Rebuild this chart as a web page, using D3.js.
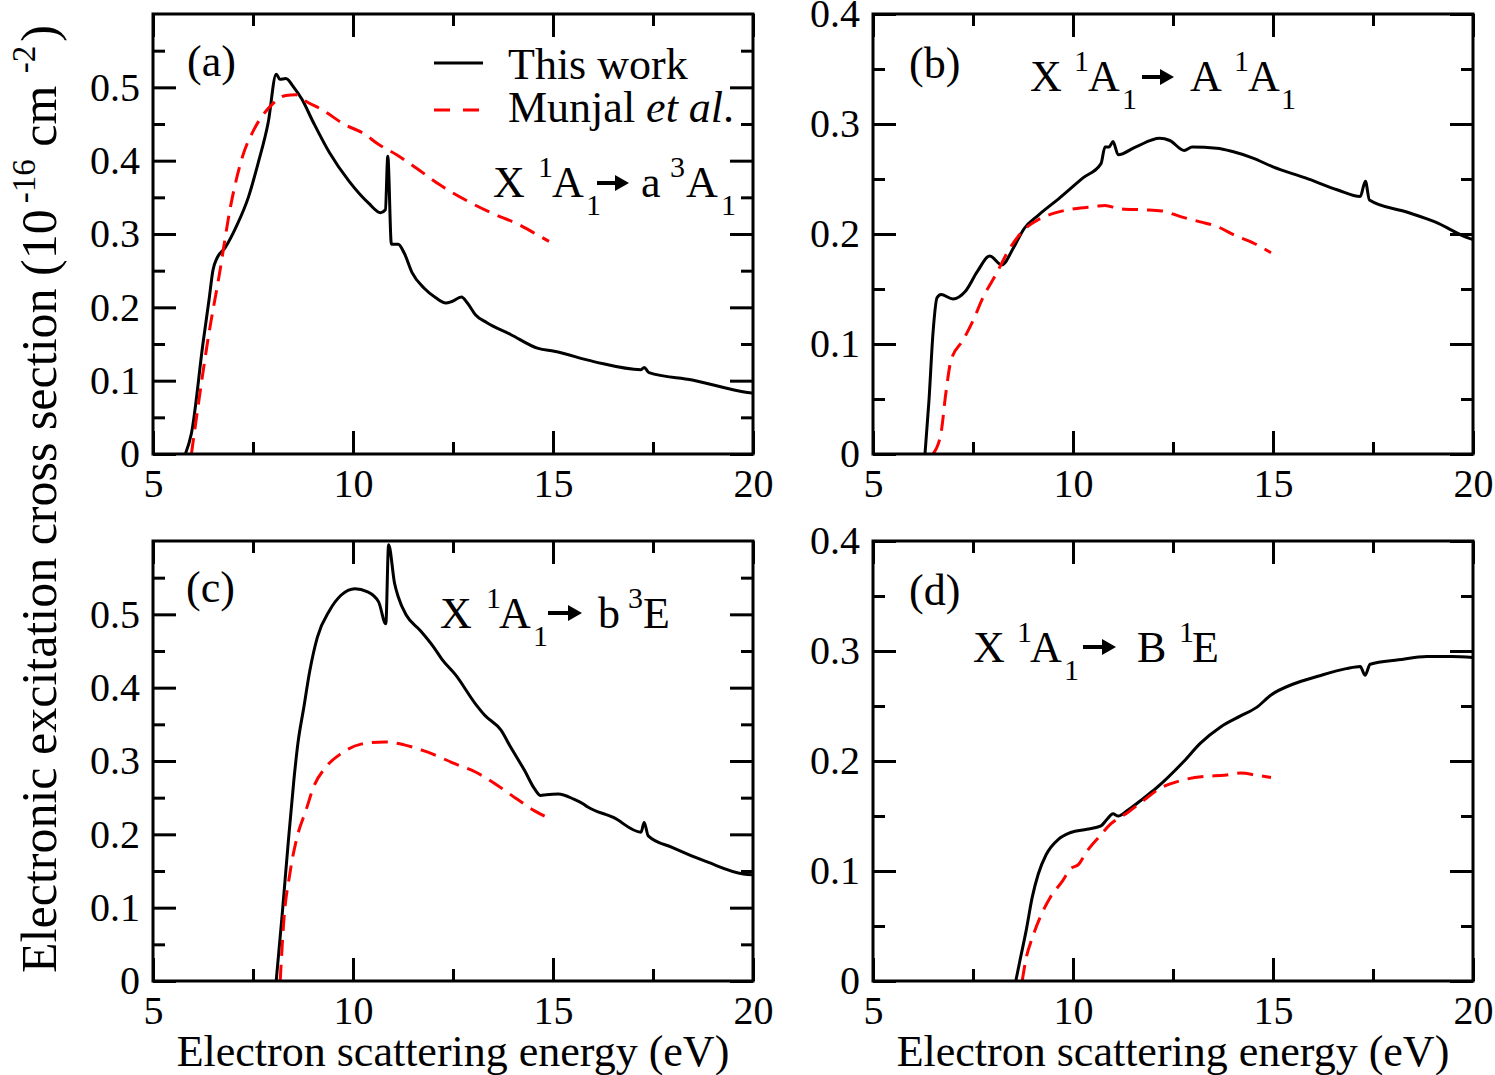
<!DOCTYPE html>
<html>
<head>
<meta charset="utf-8">
<script src="https://cdnjs.cloudflare.com/ajax/libs/d3/7.8.5/d3.min.js"></script>
<style>
body { margin: 0; background: #fff; }
svg { display: block; }
text { font-family: "Liberation Serif", "Times New Roman", Times, serif; fill: #000; }
</style>
</head>
<body>
<div class="visualization"></div>
<script>
// ---- data (energy in eV, cross section in 1e-16 cm^2) ----
const energyAThis = [5.81, 5.96, 6.25, 6.4, 6.5, 6.6, 6.8, 7.09, 7.39, 7.63, 7.88, 8.08, 8.17, 8.32, 8.52, 8.72, 9.01, 9.41, 9.9, 10.39, 10.69, 10.81, 10.87, 10.96, 11.13, 11.28, 11.48, 11.78, 12.07, 12.32, 12.47, 12.71, 12.86, 13.06, 13.35, 13.94, 14.63, 15.03, 16.02, 17.2, 17.28, 17.4, 18.48, 19.86, 20];
const sigmaAThis  = [0, 0.028, 0.151, 0.21, 0.251, 0.267, 0.281, 0.311, 0.351, 0.397, 0.452, 0.518, 0.511, 0.512, 0.5, 0.484, 0.452, 0.411, 0.372, 0.342, 0.329, 0.333, 0.406, 0.286, 0.286, 0.274, 0.247, 0.226, 0.213, 0.206, 0.208, 0.214, 0.206, 0.19, 0.179, 0.163, 0.144, 0.14, 0.126, 0.115, 0.118, 0.111, 0.101, 0.084, 0.083];
const energyARef  = [5.96, 6.15, 6.4, 6.65, 6.94, 7.24, 7.53, 7.93, 8.32, 8.57, 8.82, 9.21, 9.8, 10.3, 10.59, 11.09, 11.58, 12.17, 12.86, 13.45, 14.14, 14.54, 14.9];
const sigmaARef   = [0, 0.074, 0.165, 0.242, 0.338, 0.406, 0.443, 0.474, 0.489, 0.49, 0.481, 0.47, 0.449, 0.436, 0.424, 0.408, 0.39, 0.367, 0.345, 0.329, 0.313, 0.301, 0.29];

const energyBThis = [6.3, 6.4, 6.5, 6.6, 6.7, 7.0, 7.31, 7.61, 7.92, 8.22, 8.52, 8.78, 9.13, 9.64, 10.25, 10.7, 10.8, 10.9, 11.0, 11.13, 11.56, 12.17, 12.42, 12.78, 12.98, 13.59, 13.99, 14.5, 15.0, 15.81, 16.62, 17.18, 17.31, 17.41, 18.34, 19.05, 19.91, 20];
const sigmaBThis  = [0, 0.049, 0.11, 0.142, 0.145, 0.141, 0.148, 0.166, 0.18, 0.172, 0.188, 0.205, 0.217, 0.232, 0.251, 0.264, 0.279, 0.279, 0.284, 0.272, 0.279, 0.287, 0.285, 0.276, 0.279, 0.278, 0.275, 0.269, 0.261, 0.251, 0.24, 0.234, 0.248, 0.231, 0.22, 0.211, 0.196, 0.195];
const energyBRef  = [6.5, 6.7, 6.82, 6.95, 7.26, 7.51, 7.76, 8.07, 8.42, 8.78, 9.13, 9.53, 10.04, 10.55, 10.8, 11.16, 11.76, 12.22, 12.67, 13.18, 13.59, 14.09, 14.5, 14.95];
const sigmaBRef   = [0, 0.019, 0.055, 0.085, 0.104, 0.122, 0.143, 0.163, 0.187, 0.204, 0.213, 0.219, 0.223, 0.225, 0.226, 0.223, 0.222, 0.221, 0.216, 0.211, 0.207, 0.198, 0.192, 0.183];

const energyCThis = [8.08, 8.23, 8.37, 8.52, 8.62, 8.77, 8.92, 9.11, 9.41, 9.7, 10.05, 10.35, 10.64, 10.82, 10.89, 11.04, 11.13, 11.33, 11.68, 12.02, 12.22, 12.57, 13.06, 13.3, 13.7, 13.94, 14.29, 14.54, 14.69, 14.83, 15.13, 15.52, 15.77, 15.85, 16.51, 17.2, 17.28, 17.38, 17.99, 18.87, 19.76, 20];
const sigmaCThis  = [0, 0.091, 0.182, 0.273, 0.323, 0.373, 0.423, 0.469, 0.505, 0.526, 0.535, 0.531, 0.517, 0.487, 0.595, 0.542, 0.524, 0.499, 0.478, 0.455, 0.439, 0.417, 0.378, 0.362, 0.342, 0.319, 0.287, 0.262, 0.253, 0.254, 0.255, 0.248, 0.241, 0.238, 0.223, 0.203, 0.216, 0.198, 0.182, 0.162, 0.146, 0.145];
const energyCRef  = [8.18, 8.27, 8.42, 8.62, 8.82, 9.01, 9.31, 9.7, 10.2, 10.79, 11.28, 11.87, 12.56, 13.06, 13.55, 14.05, 14.54, 14.98];
const sigmaCRef   = [0, 0.082, 0.146, 0.2, 0.232, 0.264, 0.291, 0.31, 0.323, 0.326, 0.322, 0.312, 0.296, 0.285, 0.269, 0.25, 0.232, 0.22];

const energyDThis = [8.57, 8.67, 8.83, 8.98, 9.13, 9.33, 9.64, 9.94, 10.35, 10.7, 10.85, 11.0, 11.13, 11.36, 11.76, 12.07, 12.78, 13.18, 13.69, 14.19, 14.6, 14.95, 15.51, 16.12, 16.83, 17.18, 17.3, 17.43, 18.14, 18.85, 19.46, 20];
const sigmaDThis  = [0, 0.018, 0.046, 0.076, 0.097, 0.115, 0.129, 0.135, 0.138, 0.141, 0.147, 0.152, 0.15, 0.155, 0.166, 0.175, 0.2, 0.216, 0.231, 0.241, 0.249, 0.26, 0.27, 0.277, 0.284, 0.286, 0.278, 0.288, 0.292, 0.295, 0.295, 0.294];
const energyDRef  = [8.73, 8.83, 8.98, 9.18, 9.43, 9.74, 9.94, 10.14, 10.35, 10.65, 10.95, 11.36, 11.76, 12.17, 12.67, 13.28, 13.79, 14.19, 14.6, 14.95];
const sigmaDRef   = [0, 0.021, 0.039, 0.058, 0.076, 0.091, 0.102, 0.106, 0.118, 0.131, 0.143, 0.153, 0.164, 0.175, 0.182, 0.186, 0.187, 0.189, 0.187, 0.185];

const xTicks = [5, 10, 15, 20];
const xMinorTicks = [7.5, 12.5, 17.5];
const yTicksTall = [0, 0.1, 0.2, 0.3, 0.4, 0.5];
const yTicksShort = [0, 0.1, 0.2, 0.3, 0.4];
const seriesNames = ['This work', 'Munjal'];
const panelLetters = ['(a)', '(b)', '(c)', '(d)'];
const xTitle = 'Electron scattering energy (eV)';

const zip = (xs, ys) => xs.map((x, i) => [x, ys[i]]);

const width = 1495, height = 1075;
const svg = d3.select('.visualization').append('svg')
    .attr('width', width)
    .attr('height', height);

const panels = [
    {left: 153, top: 14, yMax: 0.6, yTicks: yTicksTall,
     thisWork: zip(energyAThis, sigmaAThis), ref: zip(energyARef, sigmaARef),
     letter: panelLetters[0], letterPos: [187, 76],
     label: {base: 197, parts: [['X', 493, 'n'], ['1', 538, 'sup'], ['A', 552, 'n'], ['1', 586, 'sub'],
                                ['a', 641, 'n'], ['3', 670, 'sup'], ['A', 686, 'n'], ['1', 721, 'sub']],
             arrow: [597, 629, 183]}},
    {left: 873, top: 14, yMax: 0.4, yTicks: yTicksShort,
     thisWork: zip(energyBThis, sigmaBThis), ref: zip(energyBRef, sigmaBRef),
     letter: panelLetters[1], letterPos: [909, 78],
     label: {base: 91, parts: [['X', 1030, 'n'], ['1', 1074, 'sup'], ['A', 1088, 'n'], ['1', 1122, 'sub'],
                               ['A', 1190, 'n'], ['1', 1234, 'sup'], ['A', 1248, 'n'], ['1', 1281, 'sub']],
             arrow: [1142, 1174, 77]}},
    {left: 153, top: 541, yMax: 0.6, yTicks: yTicksTall,
     thisWork: zip(energyCThis, sigmaCThis), ref: zip(energyCRef, sigmaCRef),
     letter: panelLetters[2], letterPos: [186, 602],
     label: {base: 628, parts: [['X', 440, 'n'], ['1', 486, 'sup'], ['A', 499, 'n'], ['1', 533, 'sub'],
                                ['b', 598, 'n'], ['3', 628, 'sup'], ['E', 643, 'n']],
             arrow: [548, 582, 613]}},
    {left: 873, top: 541, yMax: 0.4, yTicks: yTicksShort,
     thisWork: zip(energyDThis, sigmaDThis), ref: zip(energyDRef, sigmaDRef),
     letter: panelLetters[3], letterPos: [909, 605],
     label: {base: 662, parts: [['X', 973, 'n'], ['1', 1017, 'sup'], ['A', 1030, 'n'], ['1', 1064, 'sub'],
                                ['B', 1137, 'n'], ['1', 1179, 'sup'], ['E', 1192, 'n']],
             arrow: [1083, 1116, 647]}}
];

const pw = 600, ph = 440;
const major = 23, minor = 12;

panels.forEach((p, i) => {
    const g = svg.append('g').attr('transform', `translate(${p.left},${p.top})`);
    const x = d3.scaleLinear().domain([5, 20]).range([0, pw]);
    const y = d3.scaleLinear().domain([0, p.yMax]).range([ph, 0]);
    const yMinor = d3.range(0.05, p.yMax, 0.1);

    const fmtY = d => d === 0 ? '0' : d3.format('.1f')(d);
    const style = sel => {
        sel.select('.domain').remove();
        sel.attr('font-family', null);
        sel.selectAll('line').attr('stroke', '#000').attr('stroke-width', 3);
        sel.selectAll('text').style('font-size', '40px').attr('fill', '#000');
    };

    // major + minor ticks on all four sides, pointing inward
    g.append('g').attr('transform', `translate(0,${ph})`)
        .call(d3.axisBottom(x).tickValues(xTicks).tickSize(-major).tickPadding(15).tickFormat(d3.format('d'))).call(style);
    g.append('g').attr('transform', `translate(0,${ph})`)
        .call(d3.axisBottom(x).tickValues(xMinorTicks).tickSize(-minor).tickFormat('')).call(style);
    g.append('g')
        .call(d3.axisTop(x).tickValues(xTicks).tickSize(-major).tickFormat('')).call(style);
    g.append('g')
        .call(d3.axisTop(x).tickValues(xMinorTicks).tickSize(-minor).tickFormat('')).call(style);
    g.append('g')
        .call(d3.axisLeft(y).tickValues(p.yTicks).tickSize(-major).tickPadding(13).tickFormat(fmtY)).call(style);
    g.append('g')
        .call(d3.axisLeft(y).tickValues(yMinor).tickSize(-minor).tickFormat('')).call(style);
    g.append('g').attr('transform', `translate(${pw},0)`)
        .call(d3.axisRight(y).tickValues(p.yTicks).tickSize(-major).tickFormat('')).call(style);
    g.append('g').attr('transform', `translate(${pw},0)`)
        .call(d3.axisRight(y).tickValues(yMinor).tickSize(-minor).tickFormat('')).call(style);

    const line = d3.line()
        .x(d => x(d[0]))
        .y(d => y(d[1]))
        .curve(d3.curveMonotoneX);

    g.append('path')
        .datum(p.thisWork)
        .attr('d', line)
        .attr('fill', 'none')
        .attr('stroke', '#000')
        .attr('stroke-width', 3)
        .attr('stroke-linejoin', 'round');

    g.append('path')
        .datum(p.ref)
        .attr('d', line)
        .attr('fill', 'none')
        .attr('stroke', '#ff0000')
        .attr('stroke-width', 3)
        .attr('stroke-dasharray', '16,9');

    g.append('rect')
        .attr('width', pw).attr('height', ph)
        .attr('fill', 'none')
        .attr('stroke', '#000')
        .attr('stroke-width', 3);

    // panel letter
    svg.append('text')
        .attr('x', p.letterPos[0]).attr('y', p.letterPos[1])
        .style('font-size', '44px')
        .text(p.letter);

    // transition label
    p.label.parts.forEach(([t, px, kind]) => {
        const dy = kind === 'sup' ? -20 : kind === 'sub' ? 18 : 0;
        svg.append('text')
            .attr('x', px).attr('y', p.label.base + dy)
            .style('font-size', kind === 'n' ? '44px' : '30px')
            .text(t);
    });
    const [ax1, ax2, ay] = p.label.arrow;
    svg.append('line')
        .attr('x1', ax1).attr('x2', ax2 - 10).attr('y1', ay).attr('y2', ay)
        .attr('stroke', '#000').attr('stroke-width', 4);
    svg.append('path')
        .attr('d', `M${ax2},${ay} L${ax2 - 14},${ay - 8} L${ax2 - 14},${ay + 8} Z`)
        .attr('fill', '#000');
});

// legend inside panel (a)
const legend = svg.append('g');
legend.append('line').attr('x1', 434).attr('x2', 483).attr('y1', 63).attr('y2', 63)
    .attr('stroke', '#000').attr('stroke-width', 3);
legend.append('text').attr('x', 508).attr('y', 79).style('font-size', '44px').text(seriesNames[0]);
legend.append('line').attr('x1', 434).attr('x2', 483).attr('y1', 110).attr('y2', 110)
    .attr('stroke', '#ff0000').attr('stroke-width', 3).attr('stroke-dasharray', '16,13');
const munjal = legend.append('text').attr('x', 508).attr('y', 122).style('font-size', '44px');
munjal.append('tspan').text(seriesNames[1] + ' ');
munjal.append('tspan').style('font-style', 'italic').text('et al');
munjal.append('tspan').text('.');

// axis titles
[453, 1173].forEach(cx => {
    svg.append('text')
        .attr('x', cx).attr('y', 1066)
        .attr('text-anchor', 'middle')
        .style('font-size', '44px')
        .text(xTitle);
});

const yTitle = svg.append('text')
    .attr('transform', 'translate(56,499) rotate(-90)')
    .attr('text-anchor', 'middle')
    .style('font-size', '50px');
yTitle.append('tspan').text('Electronic excitation cross section (10');
yTitle.append('tspan').attr('dx', 6).attr('dy', -21).style('font-size', '33px').text('-16');
yTitle.append('tspan').attr('dy', 21).text(' cm ');
yTitle.append('tspan').attr('dy', -21).style('font-size', '33px').text('-2');
yTitle.append('tspan').attr('dx', 4).attr('dy', 21).text(')');
</script>
</body>
</html>
